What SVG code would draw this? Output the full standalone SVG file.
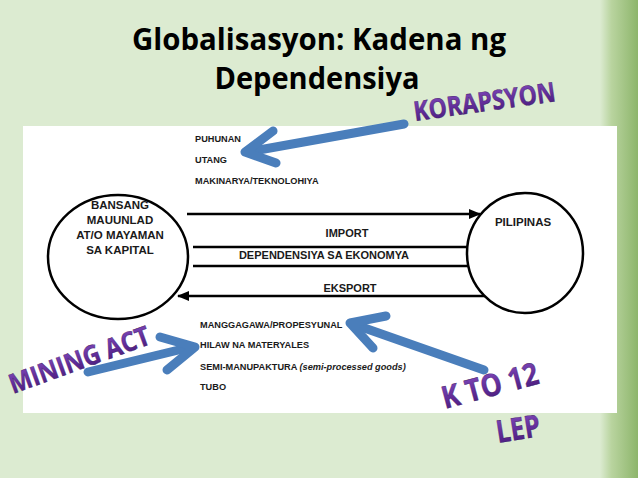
<svg xmlns="http://www.w3.org/2000/svg" width="638" height="478" viewBox="0 0 638 478">
<defs>
<linearGradient id="edge" x1="0" y1="0" x2="1" y2="0">
<stop offset="0" stop-color="#dcebd1"/>
<stop offset="0.3" stop-color="#b9d49f"/>
<stop offset="1" stop-color="#8db56b"/>
</linearGradient>
<linearGradient id="purp" x1="0" y1="0" x2="0" y2="1">
<stop offset="0" stop-color="#8a52c4"/>
<stop offset="0.6" stop-color="#5e2a96"/>
<stop offset="1" stop-color="#3f1870"/>
</linearGradient>
<marker id="ah" viewBox="0 0 10 10" refX="9" refY="5" markerWidth="5" markerHeight="5" orient="auto" markerUnits="strokeWidth">
<path d="M0,1 L10,5 L0,9 z" fill="#000"/>
</marker>
<style>
.title{font-family:"Open Sans","Liberation Sans",sans-serif;font-weight:700;font-size:30px;fill:#000;text-anchor:middle}
.node{font-family:"Liberation Sans",Arial,sans-serif;font-weight:700;font-size:11.5px;fill:#1a1a1a;text-anchor:middle}
.item{font-family:"Liberation Sans",Arial,sans-serif;font-weight:700;font-size:9.2px;fill:#1a1a1a}
.lbl{font-family:"Liberation Sans",Arial,sans-serif;font-weight:700;font-size:11px;fill:#1a1a1a;text-anchor:middle}
.ring{fill:#fff;stroke:#000;stroke-width:2.5}
.conn{stroke:#000;stroke-width:2.5;fill:none}
.blue{stroke:#4a7ebb;stroke-width:9;fill:none;stroke-linecap:round;stroke-linejoin:round}
.word{font-family:"Open Sans","Liberation Sans",sans-serif;font-weight:700;fill:url(#purp);stroke:#3a165e;stroke-width:0.4}
</style>
</defs>
<rect x="0" y="0" width="638" height="478" fill="#dcebd1"/>
<rect x="600" y="0" width="38" height="478" fill="url(#edge)"/>
<rect x="23" y="126" width="594" height="287" fill="#fff"/>

<g id="title">
<text class="title" x="319" y="50" textLength="374" lengthAdjust="spacingAndGlyphs">Globalisasyon: Kadena ng</text>
<text class="title" x="317" y="89" textLength="205" lengthAdjust="spacingAndGlyphs">Dependensiya</text>
</g>

<g id="connectors">
<line class="conn" x1="187" y1="214" x2="480" y2="214" marker-end="url(#ah)"/>
<line class="conn" x1="193" y1="247" x2="468" y2="247"/>
<line class="conn" x1="193" y1="266" x2="468" y2="266"/>
<line class="conn" x1="490" y1="296" x2="178" y2="296" marker-end="url(#ah)"/>
</g>

<g id="node-bansang">
<ellipse class="ring" cx="118" cy="257" rx="70" ry="62"/>
<text class="node" x="120" y="209">BANSANG</text>
<text class="node" x="120" y="224">MAUUNLAD</text>
<text class="node" x="120" y="239">AT/O MAYAMAN</text>
<text class="node" x="120" y="254">SA KAPITAL</text>
</g>

<g id="node-pilipinas">
<ellipse class="ring" cx="525" cy="253" rx="58" ry="60"/>
<text class="node" x="523" y="226">PILIPINAS</text>
</g>

<g id="labels">
<text class="lbl" x="347" y="237">IMPORT</text>
<text class="lbl" x="324" y="259">DEPENDENSIYA  SA EKONOMYA</text>
<text class="lbl" x="350" y="292">EKSPORT</text>
</g>

<g id="list-top">
<text class="item" x="195" y="142">PUHUNAN</text>
<text class="item" x="195" y="163">UTANG</text>
<text class="item" x="195" y="184">MAKINARYA/TEKNOLOHIYA</text>
</g>

<g id="list-bottom">
<text class="item" x="200" y="328">MANGGAGAWA/PROPESYUNAL</text>
<text class="item" x="200" y="348">HILAW NA MATERYALES</text>
<text class="item" x="200" y="370">SEMI-MANUPAKTURA <tspan font-style="italic">(semi-processed goods)</tspan></text>
<text class="item" x="200" y="390">TUBO</text>
</g>

<g id="arrows">
<line class="blue" x1="404" y1="124" x2="248" y2="152"/>
<polyline class="blue" points="273,131 245,152 276,163"/>
<line class="blue" x1="88" y1="372" x2="191" y2="347"/>
<polyline class="blue" points="160,337 195,347 167,370"/>
<line class="blue" x1="484" y1="370" x2="353" y2="324"/>
<polyline class="blue" points="386,316 350,323 373,348"/>
</g>

<g id="wordart">
<text class="word" font-size="27" transform="translate(415,121) rotate(-8)" textLength="143" lengthAdjust="spacingAndGlyphs">KORAPSYON</text>
<text class="word" font-size="27" transform="translate(13,394) rotate(-20)" textLength="148" lengthAdjust="spacingAndGlyphs">MINING ACT</text>
<text class="word" font-size="31" transform="translate(445,409) rotate(-15)" textLength="99" lengthAdjust="spacingAndGlyphs">K TO 12</text>
<text class="word" font-size="31" transform="translate(498,443) rotate(-9)" textLength="44" lengthAdjust="spacingAndGlyphs">LEP</text>
</g>
</svg>
